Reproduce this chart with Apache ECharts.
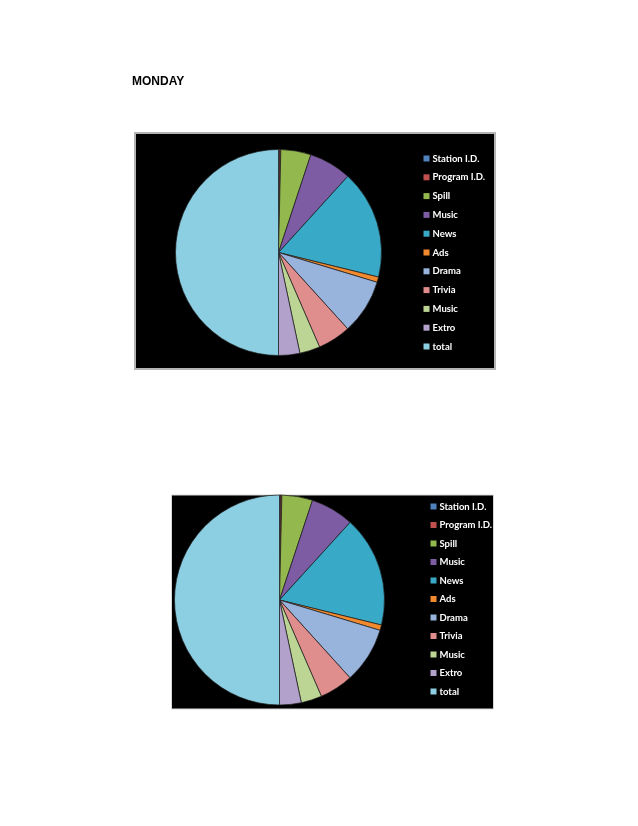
<!DOCTYPE html>
<html>
<head>
<meta charset="utf-8">
<script src="https://cdn.jsdelivr.net/npm/echarts@6/dist/echarts.min.js"></script>
<style>
html,body{margin:0;padding:0;background:#fff;}
#c{width:638px;height:826px;}
</style>
</head>
<body>
<div id="c"></div>
<script>
// ---- data ----
const pageTitle = 'MONDAY';
const categories = ['Station I.D.', 'Program I.D.', 'Spill', 'Music', 'News', 'Ads', 'Drama', 'Trivia', 'Music', 'Extro', 'total'];
const chart1Values = [5, 8, 170, 240, 615, 30, 310, 187, 115, 120, 1800];
const chart2Values = [5, 8, 170, 240, 615, 30, 310, 187, 115, 120, 1800];

// ---- styles ----
const sliceColors = ['#4F81BD', '#C0504D', '#93B84E', '#7E5CA4', '#38A9C6', '#F18A2E', '#98B4DC', '#E08E8D', '#BCD595', '#B2A1CB', '#8DCFE2'];

// make names unique (duplicate "Music") with zero-width spaces
const seen = {};
const uniqueNames = categories.map(n => {
  seen[n] = (seen[n] || 0) + 1;
  return n + '\u200b'.repeat(seen[n] - 1);
});

function buildData(vals) {
  return vals.map((v, i) => ({
    name: uniqueNames[i],
    value: v,
    itemStyle: {color: sliceColors[i]}
  }));
}

function legend(left, top, gap) {
  return {
    orient: 'vertical',
    left: left, top: top,
    padding: 0,
    data: uniqueNames,
    icon: 'rect',
    itemWidth: 6, itemHeight: 6,
    itemGap: gap,
    selectedMode: false,
    itemStyle: {borderWidth: 0},
    formatter: n => n.replace(/\u200b/g, ''),
    textStyle: {color: '#ffffff', fontFamily: 'Lato', fontWeight: 'bold', fontSize: 9.5, lineHeight: 12, padding: [0, 0, 0, -2]}
  };
}

const chart = echarts.init(document.getElementById('c'), null, {renderer: 'canvas'});
chart.setOption({
  backgroundColor: '#ffffff',
  animation: false,
  color: sliceColors,
  graphic: [
    {type: 'text', left: 132, top: 76, z: 1,
     style: {text: pageTitle, fill: '#000', font: 'bold 12px "Liberation Sans", Arial, sans-serif'}},
    {type: 'rect', z: -10, shape: {x: 135, y: 133, width: 360, height: 236},
     style: {fill: '#000', stroke: '#b4b4b4', lineWidth: 2}},
    {type: 'rect', z: -10, shape: {x: 171.5, y: 495, width: 322, height: 214},
     style: {fill: '#000', stroke: '#d8d8d8', lineWidth: 1}}
  ],
  legend: [legend(423.5, 152.5, 6.8), legend(430.5, 500.5, 6.5)],
  series: [
    {
      type: 'pie', center: [278.5, 252.5], radius: 103,
      startAngle: 90, clockwise: true,
      label: {show: false}, labelLine: {show: false},
      emphasis: {disabled: true},
      itemStyle: {borderColor: 'rgba(30,30,30,0.7)', borderWidth: 1},
      data: buildData(chart1Values)
    },
    {
      type: 'pie', center: [279.5, 600], radius: 105,
      startAngle: 90, clockwise: true,
      label: {show: false}, labelLine: {show: false},
      emphasis: {disabled: true},
      itemStyle: {borderColor: 'rgba(30,30,30,0.7)', borderWidth: 1},
      data: buildData(chart2Values)
    }
  ]
});
</script>
</body>
</html>
